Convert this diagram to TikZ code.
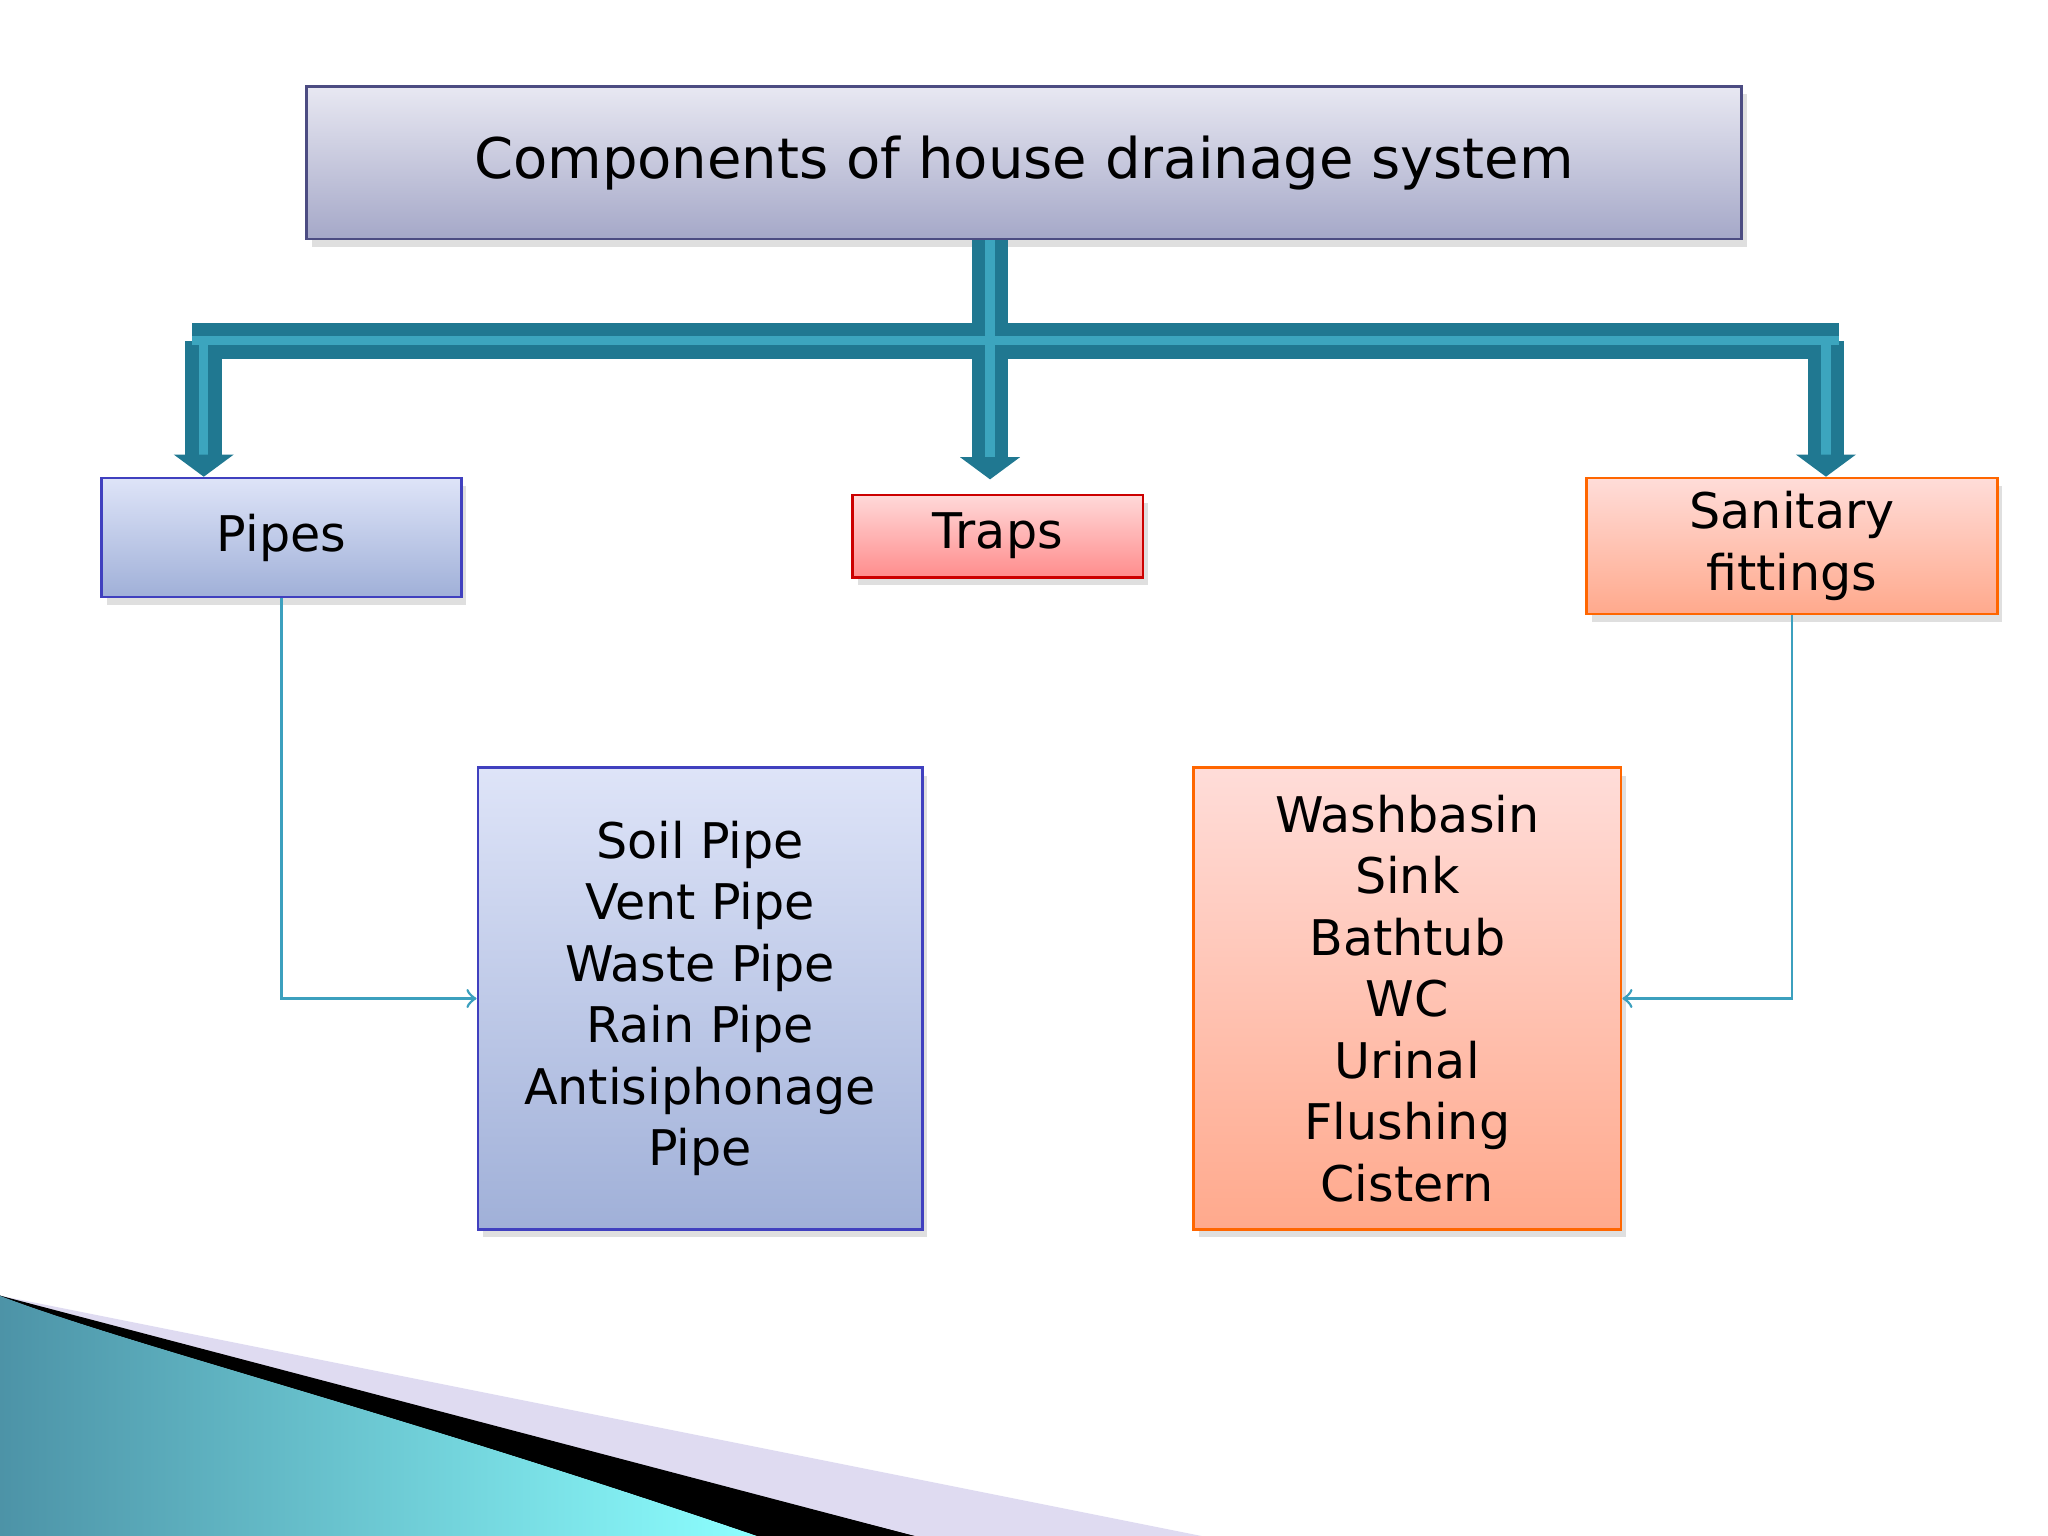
\documentclass[tikz,border=0pt]{standalone}
\usepackage{fontspec}
\setmainfont{DejaVu Sans}
\usetikzlibrary{shadows,calc,arrows}
\definecolor{teal1}{RGB}{32,120,145}
\definecolor{teal2}{RGB}{60,165,190}
\definecolor{conn}{RGB}{60,160,190}
\definecolor{ttop}{RGB}{232,232,242}
\definecolor{tbot}{RGB}{165,168,200}
\definecolor{btop}{RGB}{222,228,248}
\definecolor{bbot}{RGB}{160,176,216}
\tikzset{
  box/.style={draw, line width=0.6pt, inner sep=0pt, align=center,
    font=\fontsize{10.7}{13.4}\selectfont, drop shadow={opacity=0.25,shadow xshift=0.4mm,shadow yshift=-0.6mm}},
  bluebox/.style={box, draw=blue!50!gray, top color=btop, bottom color=bbot},
  redbox/.style={box, draw=red!80!black, top color=red!15, bottom color=red!45},
  orangebox/.style={box, draw=orange!80!red, top color=orange!20!red!15, bottom color=orange!50!red!45},
  pipe/.style={line width=8pt, teal1},
  pipein/.style={line width=2pt, teal2},
  link/.style={conn, line width=0.6pt, ->, >=to}
}
\begin{document}
\begin{tikzpicture}[x=0.01cm,y=-0.01cm]
\useasboundingbox (0,0) rectangle (1568,1176);
% background swoosh
\fill[cyan!8!blue!12] (0,992) -- (920,1176) -- (0,1176) -- cycle;
\fill[black] (0,992) -- (700,1176) -- (0,1176) -- cycle;
\shade[left color=teal1!80, right color=cyan!45!white] (0,992) .. controls (100,1030) and (300,1080) .. (580,1176) -- (0,1176) -- cycle;
\fill[black] (0,992) -- (90,1020) -- (700,1176) -- (580,1176) .. controls (300,1080) and (100,1030) .. cycle;

\node[box, draw=blue!30!black!70, top color=ttop, bottom color=tbot, minimum width=10.98cm, minimum height=1.17cm,
  font=\fontsize{12.2}{15}\selectfont] (title) at (784,124.5) {Components of house drainage system};
\node[bluebox, minimum width=2.75cm, minimum height=0.91cm] (pipes) at (215.5,411.5) {Pipes};
\node[redbox, minimum width=2.22cm, minimum height=0.63cm] (traps) at (764,410.5) {Traps};
\node[orangebox, minimum width=3.14cm, minimum height=1.04cm] (sanit) at (1372,418) {Sanitary\\fittings};
\node[bluebox, minimum width=3.4cm, minimum height=3.53cm] (plist) at (536,764.5)
  {Soil Pipe\\Vent Pipe\\Waste Pipe\\Rain Pipe\\Antisiphonage\\Pipe};
\node[orangebox, minimum width=3.27cm, minimum height=3.53cm] (slist) at (1077.5,764.5)
  {Washbasin\\Sink\\Bathtub\\WC\\Urinal\\Flushing\\Cistern};

% thick pipe connectors
\coordinate (hl) at (147,261);
\coordinate (hr) at (1408,261);
\coordinate (al) at (156,348);
\coordinate (ar) at (1398,348);
\coordinate (am) at (758,350);
\foreach \c in {pipe,pipein}{
  \draw[\c] (hl) -- (hr);
  \draw[\c] (hl -| al) -- (al);
  \draw[\c] (hr -| ar) -- (ar);
  \draw[\c] (title.south -| am) -- (am);
}
\foreach \a in {al,ar,am}
  \fill[teal1] ($(\a)+(-23,0)$) -- ($(\a)+(23,0)$) -- ($(\a)+(0,17)$) -- cycle;

\draw[link] (pipes.south) |- (plist.west);
\draw[link] (sanit.south) |- (slist.east);
\end{tikzpicture}
\end{document}
